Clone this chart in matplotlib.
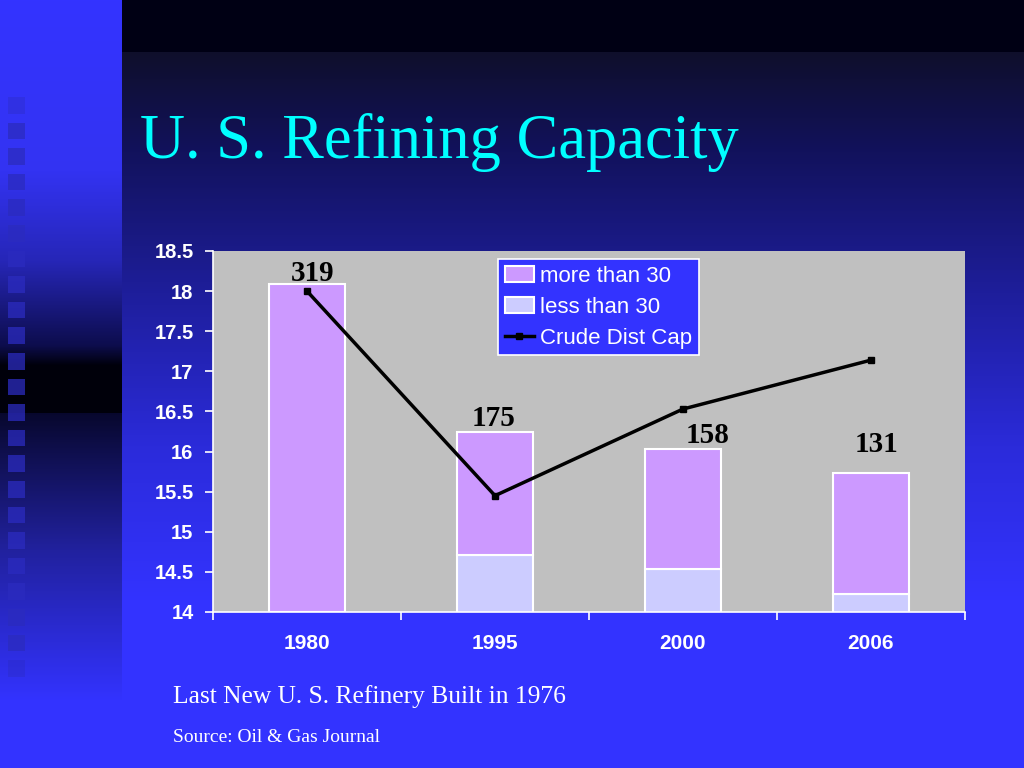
import numpy as np
import matplotlib.pyplot as plt
from matplotlib.patches import Rectangle

years = ['1980', '1995', '2000', '2006']
less_than_30 = [14.0, 14.71, 14.54, 14.22]
more_than_30 = [4.09, 1.53, 1.49, 1.51]
crude_dist_cap = [18.0, 15.45, 16.53, 17.14]
refinery_count = [319, 175, 158, 131]
count_label_x = [0.03, 0.99, 2.13, 3.03]
count_label_y = [18.05, 16.24, 16.03, 15.92]

W, H = 1024, 768
fig = plt.figure(figsize=(W / 100, H / 100), dpi=100)

# slide background
def ramp(stops):
    ys = np.arange(H)
    px = [s[0] for s in stops]
    return np.stack([np.interp(ys, px, [s[1][k] for s in stops]) for k in range(3)], axis=1)

main = ramp([(0, (0.0, 0.0, 0.08)), (51, (0.0, 0.0, 0.08)), (52, (0.06, 0.06, 0.17)),
             (150, (0.07, 0.07, 0.36)), (300, (0.12, 0.12, 0.62)), (450, (0.17, 0.17, 0.86)),
             (600, (0.2, 0.2, 1.0)), (768, (0.2, 0.2, 1.0))])
side = ramp([(0, (0.2, 0.2, 1.0)), (170, (0.2, 0.2, 0.95)), (260, (0.15, 0.15, 0.72)),
             (345, (0.05, 0.05, 0.3)), (365, (0.0, 0.0, 0.04)), (412, (0.0, 0.0, 0.04)),
             (413, (0.03, 0.03, 0.18)), (550, (0.13, 0.13, 0.62)), (700, (0.2, 0.2, 1.0)),
             (768, (0.2, 0.2, 1.0))])
bg = np.repeat(main[:, None, :], W, axis=1)
bg[:, :122, :] = side[:, None, :]

bgax = fig.add_axes([0, 0, 1, 1], zorder=-10)
bgax.imshow(bg, aspect='auto', extent=(0, W, H, 0))
bgax.set_xlim(0, W)
bgax.set_ylim(H, 0)
bgax.axis('off')
for i in range(23):
    top = 97 + i * 25.6
    fade = 0.35 if top < 115 or top > 640 else 0.75
    bgax.add_patch(Rectangle((8, top), 17, 16.5, color=(0.17, 0.17, 0.75), alpha=fade, lw=0))

fig.text(140 / W, 1 - 158 / H, 'U. S. Refining Capacity', color='#00FFFF',
         family='Liberation Serif', fontsize=45)
fig.text(173 / W, 1 - 703 / H, 'Last New U. S. Refinery Built in 1976', color='white',
         family='Liberation Serif', fontsize=18.4)
fig.text(173 / W, 1 - 742 / H, 'Source: Oil & Gas Journal', color='white',
         family='Liberation Serif', fontsize=14)

ax = fig.add_axes([213 / W, 1 - 612 / H, 752 / W, 361 / H])
ax.set_facecolor('#C0C0C0')
x = np.arange(len(years))
b1 = ax.bar(x, less_than_30, width=0.4, color='#CCCCFF', edgecolor='white', lw=1.5,
            label='less than 30')
b2 = ax.bar(x, more_than_30, width=0.4, bottom=less_than_30, color='#CC99FF',
            edgecolor='white', lw=1.5, label='more than 30')
ln, = ax.plot(x, crude_dist_cap, color='black', lw=2.5, marker='s', ms=5,
              label='Crude Dist Cap')

for xi, yi, n in zip(count_label_x, count_label_y, refinery_count):
    ax.text(xi, yi, str(n), ha='center', va='bottom', family='Liberation Serif',
            fontweight='bold', fontsize=21, color='black')

ax.set_xlim(-0.5, 3.5)
ax.set_ylim(14, 18.5)
ax.set_yticks(np.arange(14, 18.51, 0.5))
ax.set_yticklabels(['%g' % v for v in np.arange(14, 18.51, 0.5)])
ax.set_xticks(x)
ax.set_xticklabels(years)
ax.set_xticks(np.arange(-0.5, 3.6, 1), minor=True)
ax.tick_params(axis='x', which='major', length=0, pad=16, labelsize=15, labelcolor='white')
ax.tick_params(axis='x', which='minor', length=6, width=1.2, color='white', direction='out')
ax.tick_params(axis='y', length=6, width=1.2, color='white', direction='out', pad=8,
               labelsize=14.5, labelcolor='white')
for lab in ax.get_xticklabels() + ax.get_yticklabels():
    lab.set_fontweight('bold')
    lab.set_family('Liberation Sans')
for s in ['top', 'right']:
    ax.spines[s].set_visible(False)
for s in ['left', 'bottom']:
    ax.spines[s].set_color('white')
    ax.spines[s].set_linewidth(1.2)

leg = ax.legend([b2, b1, ln], ['more than 30', 'less than 30', 'Crude Dist Cap'],
                loc='upper left', bbox_to_anchor=(0.379, 0.978), borderaxespad=0,
                facecolor='#3333FF', edgecolor='white', framealpha=1, fancybox=False,
                borderpad=0.3, labelspacing=0.45, handlelength=1.3, handletextpad=0.3,
                prop={'family': 'Liberation Sans', 'size': 16})
leg.get_frame().set_linewidth(1.2)
for t in leg.get_texts():
    t.set_color('white')

fig.savefig('out.png', dpi=100)
